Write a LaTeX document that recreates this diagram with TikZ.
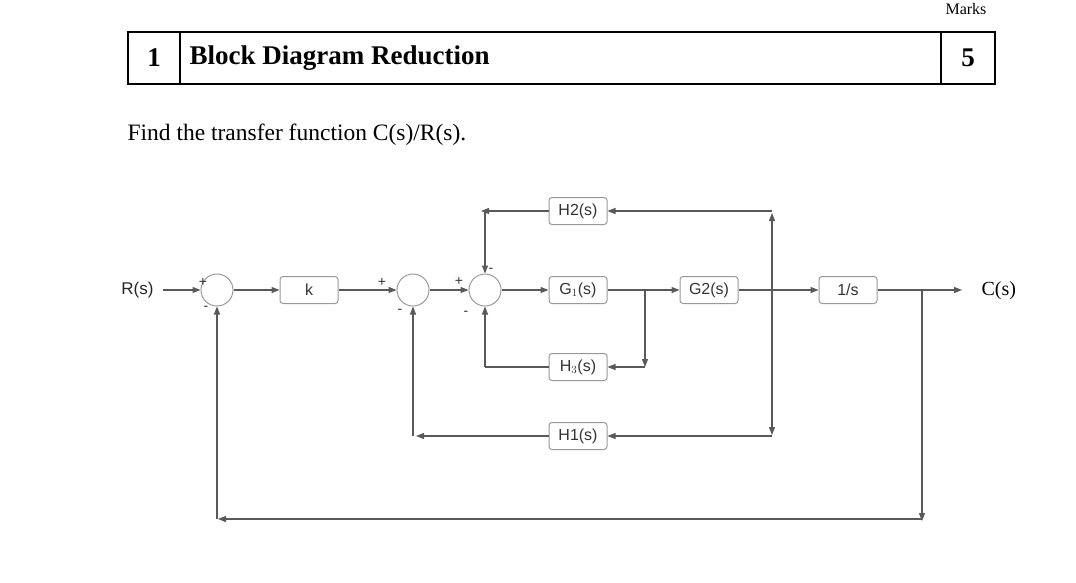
\documentclass[tikz,border=0pt]{standalone}
\usepackage{fontspec}
\setmainfont{Liberation Serif}
\newfontfamily\dsans{Liberation Sans}
\usetikzlibrary{arrows.meta}
\begin{document}
\begin{tikzpicture}[x=1pt,y=-1pt,
  blk/.style={draw=gray!80,line width=1pt,rounded corners=3pt,minimum width=58pt,minimum height=27pt,inner sep=0pt,font=\dsans\fontsize{16}{18}\selectfont,text=black!80},
  sumc/.style={circle,draw=gray!80,line width=1pt,minimum size=32pt,inner sep=0pt},
  ln/.style={draw=black!65,line width=1.1pt},
  ar/.style={ln,-{Triangle[length=8pt,width=6pt]}},
  sg/.style={font=\dsans\fontsize{14}{15}\selectfont,text=black!80},
  lab/.style={font=\dsans\fontsize{17}{19}\selectfont,text=black!85}]
\useasboundingbox (0,0) rectangle (1076,582);
% header
\draw[line width=1.2pt] (128,32) rectangle (995,84);
\draw[line width=1.2pt] (180,32) -- (180,84) (941,32) -- (941,84);
\node[font=\fontsize{27}{28}\selectfont\bfseries] (n1) at (154,58) {1};
\node[font=\fontsize{27}{28}\selectfont\bfseries,anchor=west] (ttl) at (186,58) {Block Diagram Reduction};
\node[font=\fontsize{27}{28}\selectfont\bfseries] (mk) at (968,58) {5};
\node[font=\fontsize{16}{18}\selectfont,inner sep=0pt] (mks) at (966,9) {Marks};
\node[font=\fontsize{23.5}{26}\selectfont,anchor=west] (q) at (124,135) {Find the transfer function C(s)/R(s).};
% nodes
\node[lab,anchor=east] (R) at (157,290) {R(s)};
\node[sumc] (s1) at (217,290) {};
\node[blk] (k) at (309,290) {k};
\node[sumc] (s2) at (413,290) {};
\node[sumc] (s3) at (485,290) {};
\node[blk] (G1) at (578,290) {G$_1$(s)};
\node[blk] (G2) at (709,290) {G2(s)};
\node[blk] (I) at (848,290) {1/s};
\node[font=\fontsize{20}{22}\selectfont,anchor=west] (C) at (978,291) {C(s)};
\node[blk] (H2) at (578,211) {H2(s)};
\node[blk] (H3) at (578,367) {H$_3$(s)};
\node[blk] (H1) at (578,436) {H1(s)};
\coordinate (Ce) at (962,290);
\coordinate (bG) at (645,290);
\coordinate (bG2) at (772,290);
\coordinate (bC) at (922,290);
% signs
\node[sg] at (203,282) {+};
\node[sg] at (206,308) {-};
\node[sg] at (382,282) {+};
\node[sg] at (400,311) {-};
\node[sg] at (459,281) {+};
\node[sg] at (491,270) {-};
\node[sg] at (466,313) {-};
% forward path
\draw[ar] ([xshift=6pt]R.east) -- (s1.west);
\draw[ar] (s1.east) -- (k.west);
\draw[ar] (k.east) -- (s2.west);
\draw[ar] (s2.east) -- (s3.west);
\draw[ar] (s3.east) -- (G1.west);
\draw[ar] (G1.east) -- (G2.west);
\draw[ar] (G2.east) -- (I.west);
\draw[ar] (I.east) -- (Ce);
% H3 loop
\draw[ar] (bG) -- (645,367);
\draw[ar] (645,367) -- (H3.east);
\draw[ln] (H3.west) -- (485,367);
\draw[ar] (485,367) -- (s3.south);
% H2 loop
\draw[ar] (bG2) -- (772,213);
\draw[ar] (772,211) -- (H2.east);
\draw[ar] (H2.west) -- (481,211);
\draw[ar] (485,211) -- (s3.north);
% H1 loop
\draw[ar] (bG2) -- (772,435);
\draw[ar] (772,436) -- (H1.east);
\draw[ar] (H1.west) -- (416,436);
\draw[ar] (413,436) -- (s2.south);
% outer loop
\draw[ar] (bC) -- (922,521);
\draw[ar] (922,519) -- (218,519);
\draw[ar] (217,519) -- (s1.south);
\end{tikzpicture}
\end{document}
